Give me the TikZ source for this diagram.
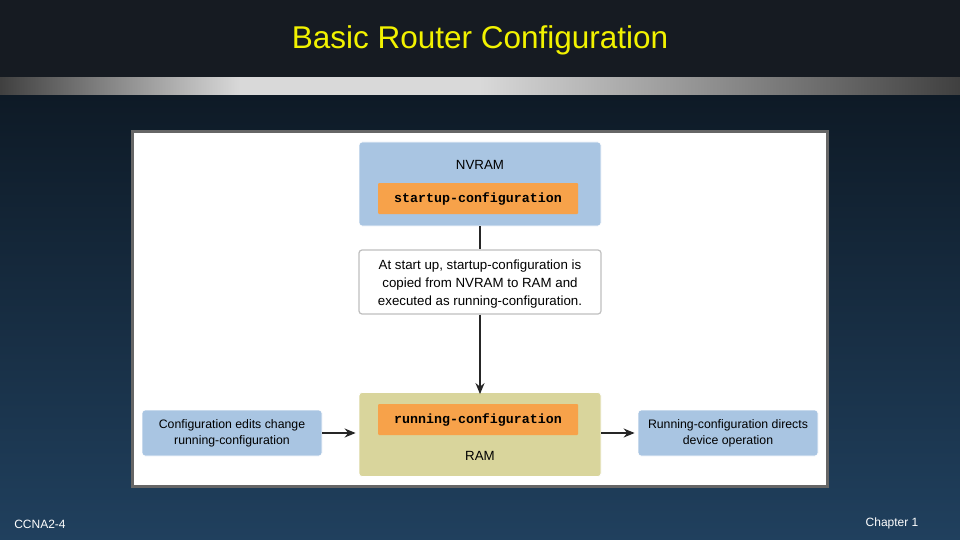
\documentclass[tikz,border=0pt]{standalone}
\usepackage{fontspec}
\setmainfont{Liberation Sans}
\newfontfamily\monof{Liberation Mono}
\usetikzlibrary{arrows.meta}
\definecolor{bluebox}{HTML}{A9C5E2}
\definecolor{orangebox}{HTML}{F7A24A}
\definecolor{rambox}{HTML}{D9D59C}
\definecolor{navytop}{HTML}{0E1A26}
\definecolor{navybot}{HTML}{20405E}
\definecolor{hdr}{HTML}{161B22}
\definecolor{tyellow}{HTML}{F2F200}
\tikzset{
 box/.style={draw=white,line width=0.8pt,rounded corners=3pt,align=center,font=\fontsize{13.3}{18}\selectfont},
 code/.style={fill=orangebox,rounded corners=1pt,minimum width=200pt,minimum height=31pt,font=\monof\bfseries\fontsize{13.3}{14}\selectfont},
 arr/.style={-{Stealth[length=11pt,width=9pt]},line width=1.6pt,draw=black!85}
}
\begin{document}
\begin{tikzpicture}[x=1pt,y=-1pt]
\useasboundingbox (0,0) rectangle (960,540);
\shade[top color=navytop,bottom color=navybot] (0,95) rectangle (960,540);
\fill[hdr] (0,0) rectangle (960,78);
\shade[left color=black!75,right color=white!85!black,middle color=white!85!black] (0,78) rectangle (480,95);
\shade[left color=white!85!black,right color=black!75] (480,78) rectangle (960,95);
\node[text=tyellow,font=\fontsize{31.5}{33}\selectfont] (title) at (480,40) {Basic Router Configuration};
\node[text=white,font=\fontsize{12}{13}\selectfont] (cc) at (40,524) {CCNA2-4};
\node[text=white,font=\fontsize{12}{13}\selectfont] (ch) at (892,523) {Chapter 1};
\fill[black!60] (131,130) rectangle (829,488);
\fill[white] (134,133) rectangle (826,485);
\node[box,fill=bluebox,minimum width=242pt,minimum height=84pt] (nv) at (480,184) {};
\node[font=\fontsize{13.3}{14}\selectfont] (nvt) at (480,165) {NVRAM};
\node[code] (sc) at (478,198.5) {startup-configuration};
\node[box,draw=black!25,fill=white,minimum width=242pt,minimum height=64pt,line width=1.2pt] (txt) at (480,282) {};
\node[align=center,font=\fontsize{13.3}{18}\selectfont] (txtt) at (480,284.5) {At start up, startup-configuration is\\copied from NVRAM to RAM and\\executed as running-configuration.};
\node[box,fill=rambox,minimum width=242pt,minimum height=84pt] (ram) at (480,434.5) {};
\node[code] (rc) at (478,419.5) {running-configuration};
\node[font=\fontsize{13.3}{14}\selectfont] (ramt) at (480,456) {RAM};
\node[box,fill=bluebox,minimum width=180pt,minimum height=46pt,font=\fontsize{12.3}{16}\selectfont] (le) at (232,433) {Configuration edits change\\running-configuration};
\node[box,fill=bluebox,minimum width=180pt,minimum height=46pt,font=\fontsize{12.3}{16}\selectfont] (ri) at (728,433) {Running-configuration directs\\device operation};
\draw[line width=1.6pt,draw=black!85] (nv.south) -- (txt.north);
\draw[arr] (txt.south) -- ([yshift=-2pt]ram.north);
\draw[arr] (le.east) -- ([xshift=-3pt]ram.west|-le.east);
\draw[arr] (ram.east|-ri.west) -- ([xshift=-3pt]ri.west);
\end{tikzpicture}
\end{document}
